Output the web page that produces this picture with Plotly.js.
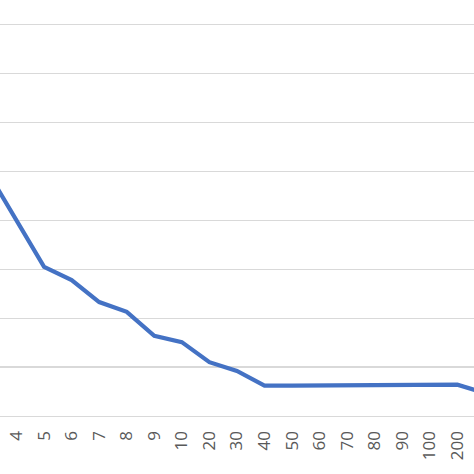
<!DOCTYPE html>
<html>
<head>
<meta charset="utf-8">
<script src="https://cdn.plot.ly/plotly-3.0.1.min.js"></script>
<style>html,body{margin:0;padding:0;background:#fff;}#chart{width:474px;height:474px;}</style>
</head>
<body>
<div id="chart"></div>
<script>
const categories = ["3","4","5","6","7","8","9","10","20","30","40","50","60","70","80","90","100","200","300"];
const values = [4.95, 4.02, 3.05, 2.78, 2.33, 2.13, 1.64, 1.51, 1.10, 0.92, 0.62, 0.62, 0.62, 0.62, 0.62, 0.62, 0.63, 0.64, 0.47];

const trace = {
  x: categories,
  y: values,
  type: 'scatter',
  mode: 'lines',
  line: {color: '#4472C4', width: 4.2},
  hoverinfo: 'none'
};

const layout = {
  width: 474,
  height: 474,
  margin: {l: 0, r: 0, t: 15, b: 58},
  paper_bgcolor: '#ffffff',
  plot_bgcolor: '#ffffff',
  showlegend: false,
  xaxis: {
    type: 'category',
    range: [0.40, 17.605],
    showgrid: false,
    zeroline: false,
    showline: true,
    linecolor: '#d9d9d9',
    linewidth: 1.3,
    ticks: '',
    tickangle: -90,
    ticklabelstandoff: 7,
    tickfont: {family: 'Open Sans', size: 17, color: '#595959'}
  },
  yaxis: {
    range: [0, 8.2],
    dtick: 1,
    showgrid: true,
    gridcolor: '#d9d9d9',
    gridwidth: 1.3,
    zeroline: false,
    showline: false,
    showticklabels: false,
    ticks: ''
  }
};

Plotly.newPlot('chart', [trace], layout, {staticPlot: true, displayModeBar: false});
</script>
</body>
</html>
